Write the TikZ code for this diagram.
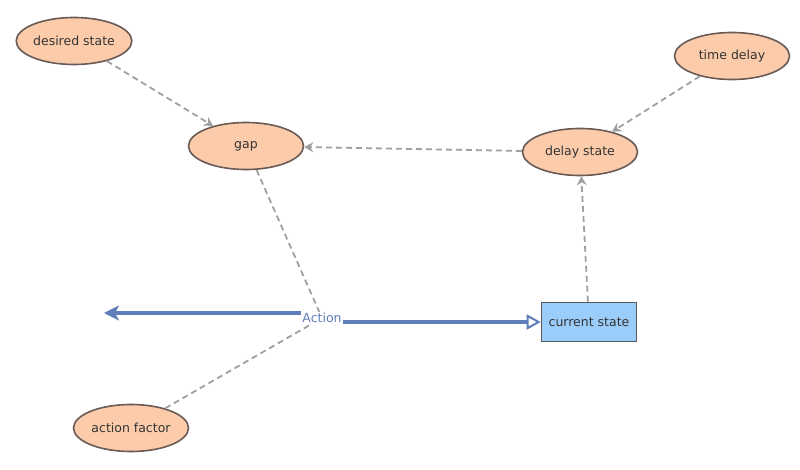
\documentclass[tikz,border=0pt]{standalone}
\usepackage{fontspec}
\setmainfont{DejaVu Sans}
\usepackage{color}
\definecolor{mypeach}{RGB}{252,204,170}
\definecolor{myoutline}{RGB}{105,90,85}
\definecolor{myskyblue}{RGB}{155,205,250}
\definecolor{mysteel}{RGB}{95,125,185}
\definecolor{mygray}{RGB}{160,160,160}
\usetikzlibrary{arrows,arrows.meta,shapes.geometric,positioning}
\tikzstyle{auxvar}=[draw=myoutline,fill=mypeach,ellipse,line width=1.6pt,minimum width=115pt,minimum height=47pt,inner sep=0pt,font=\fontsize{12.5}{14}\selectfont,text=black!80]
\tikzstyle{stockbox}=[draw=black!65,fill=myskyblue,rectangle,line width=1.6pt,minimum width=95pt,minimum height=39pt,inner sep=0pt,font=\fontsize{12.5}{14}\selectfont,text=black!80]
\tikzstyle{link}=[draw=mygray,line width=1.8pt,dash pattern=on 6pt off 4pt,-{Stealth[length=9pt,width=10pt,inset=3pt]}]
\tikzstyle{flow}=[draw=mysteel,line width=3.2pt]

\begin{document}
\begin{tikzpicture}[x=1pt,y=-1pt]
\useasboundingbox (0,0) rectangle (800,470);
\draw (74, 41) node [auxvar] (desired) {desired state};
\draw (246, 146) node [auxvar] (gap) {gap};
\draw (580, 152) node [auxvar] (delaystate) {delay state};
\draw (732, 56) node [auxvar] (timedelay) {time delay};
\draw (131, 428) node [auxvar] (factor) {action factor};
\draw (589, 322) node [stockbox] (current) {current state};
\draw (322, 318) node [text=mysteel,inner sep=1pt,font=\fontsize{12.5}{14}\selectfont] (action) {Action};
\coordinate (cloud) at (104, 313);
\draw[flow,-{Stealth[length=15pt,width=15pt,inset=4pt]}] (action.west |- cloud) -- (cloud);
\draw[flow,-{Triangle[open,length=14pt,width=15pt,line width=2pt,fill=white]}] (action.east |- current) -- (current.west);
\draw[link] (desired) -- (gap);
\draw[link] (delaystate) -- (gap);
\draw[link] (timedelay) -- (delaystate);
\draw[link] (current) -- (delaystate);
\draw[link,-] (gap) -- (action);
\draw[link,-] (factor) -- (action);
\end{tikzpicture}
\end{document}
